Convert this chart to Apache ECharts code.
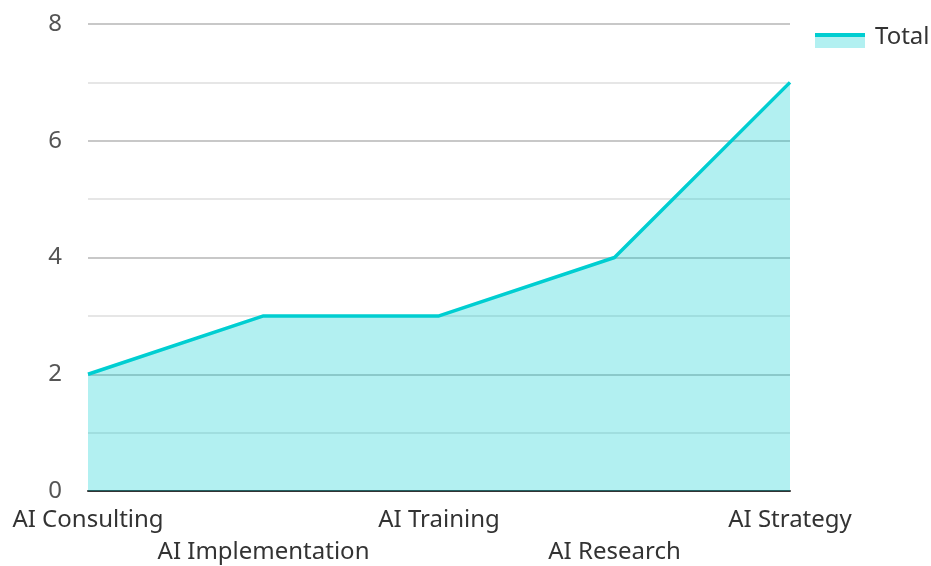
<!DOCTYPE html>
<html>
<head>
<meta charset="utf-8">
<script src="https://cdn.jsdelivr.net/npm/echarts@6/dist/echarts.min.js"></script>
<style>
  html, body { margin: 0; padding: 0; background: #fff; }
  #chart { width: 931px; height: 566px; }
</style>
</head>
<body>
<div id="chart"></div>
<script>
const categories = ['AI Consulting', 'AI Implementation', 'AI Training', 'AI Research', 'AI Strategy'];
const totals = [2, 3, 3, 4, 7];
const seriesName = 'Total';

const lineColor = '#00CED1';
const areaTint = '#B2F0F1';
const fontFamily = '"Noto Sans", sans-serif';

const chart = echarts.init(document.getElementById('chart'));

const option = {
  animation: false,
  textStyle: { fontFamily },
  legend: {
    left: 810,
    top: 20,
    padding: [5, 0, 5, 5],
    itemWidth: 50,
    itemHeight: 22,
    itemGap: 10,
    icon: 'rect',
    textStyle: { fontSize: 24, color: '#333', fontFamily, padding: [0, 0, 0, 5] },
    data: [{
      name: seriesName,
      // icon sits a bit lower than the text: transparent top strip, then line, then area tint
      itemStyle: {
        color: {
          type: 'linear', x: 0, y: 0, x2: 0, y2: 1,
          colorStops: [
            { offset: 0, color: 'rgba(255,255,255,0)' },
            { offset: 0.32, color: 'rgba(255,255,255,0)' },
            { offset: 0.32, color: lineColor },
            { offset: 0.5, color: lineColor },
            { offset: 0.5, color: areaTint },
            { offset: 1, color: areaTint }
          ]
        },
        borderWidth: 0
      }
    }]
  },
  grid: {
    left: 88,
    right: 141,
    top: 24,
    bottom: 75,
    containLabel: false,
    outerBoundsMode: 'none'
  },
  xAxis: {
    type: 'category',
    boundaryGap: false,
    data: categories,
    axisLine: { lineStyle: { color: '#333', width: 2 } },
    axisTick: { show: false },
    axisLabel: {
      interval: 0,
      fontSize: 24,
      color: '#333',
      margin: 13,
      lineHeight: 32,
      verticalAlign: 'top',
      formatter: (v, i) => (i % 2 ? '\n' + v : v)
    }
  },
  yAxis: {
    type: 'value',
    min: 0,
    max: 8,
    interval: 2,
    axisLine: { show: false },
    axisTick: { show: false },
    axisLabel: { fontSize: 24, color: '#555', margin: 26 },
    splitLine: { lineStyle: { color: '#c8c8c8', width: 2 } },
    minorTick: { show: false, splitNumber: 2 },
    minorSplitLine: { show: true, lineStyle: { color: '#e6e6e6', width: 2 } }
  },
  series: [{
    name: seriesName,
    type: 'line',
    data: totals,
    showSymbol: false,
    symbol: 'none',
    lineStyle: { color: lineColor, width: 3.5 },
    itemStyle: { color: lineColor },
    areaStyle: { color: lineColor, opacity: 0.3 },
    z: 1
  }]
};

chart.setOption(option);
</script>
</body>
</html>
